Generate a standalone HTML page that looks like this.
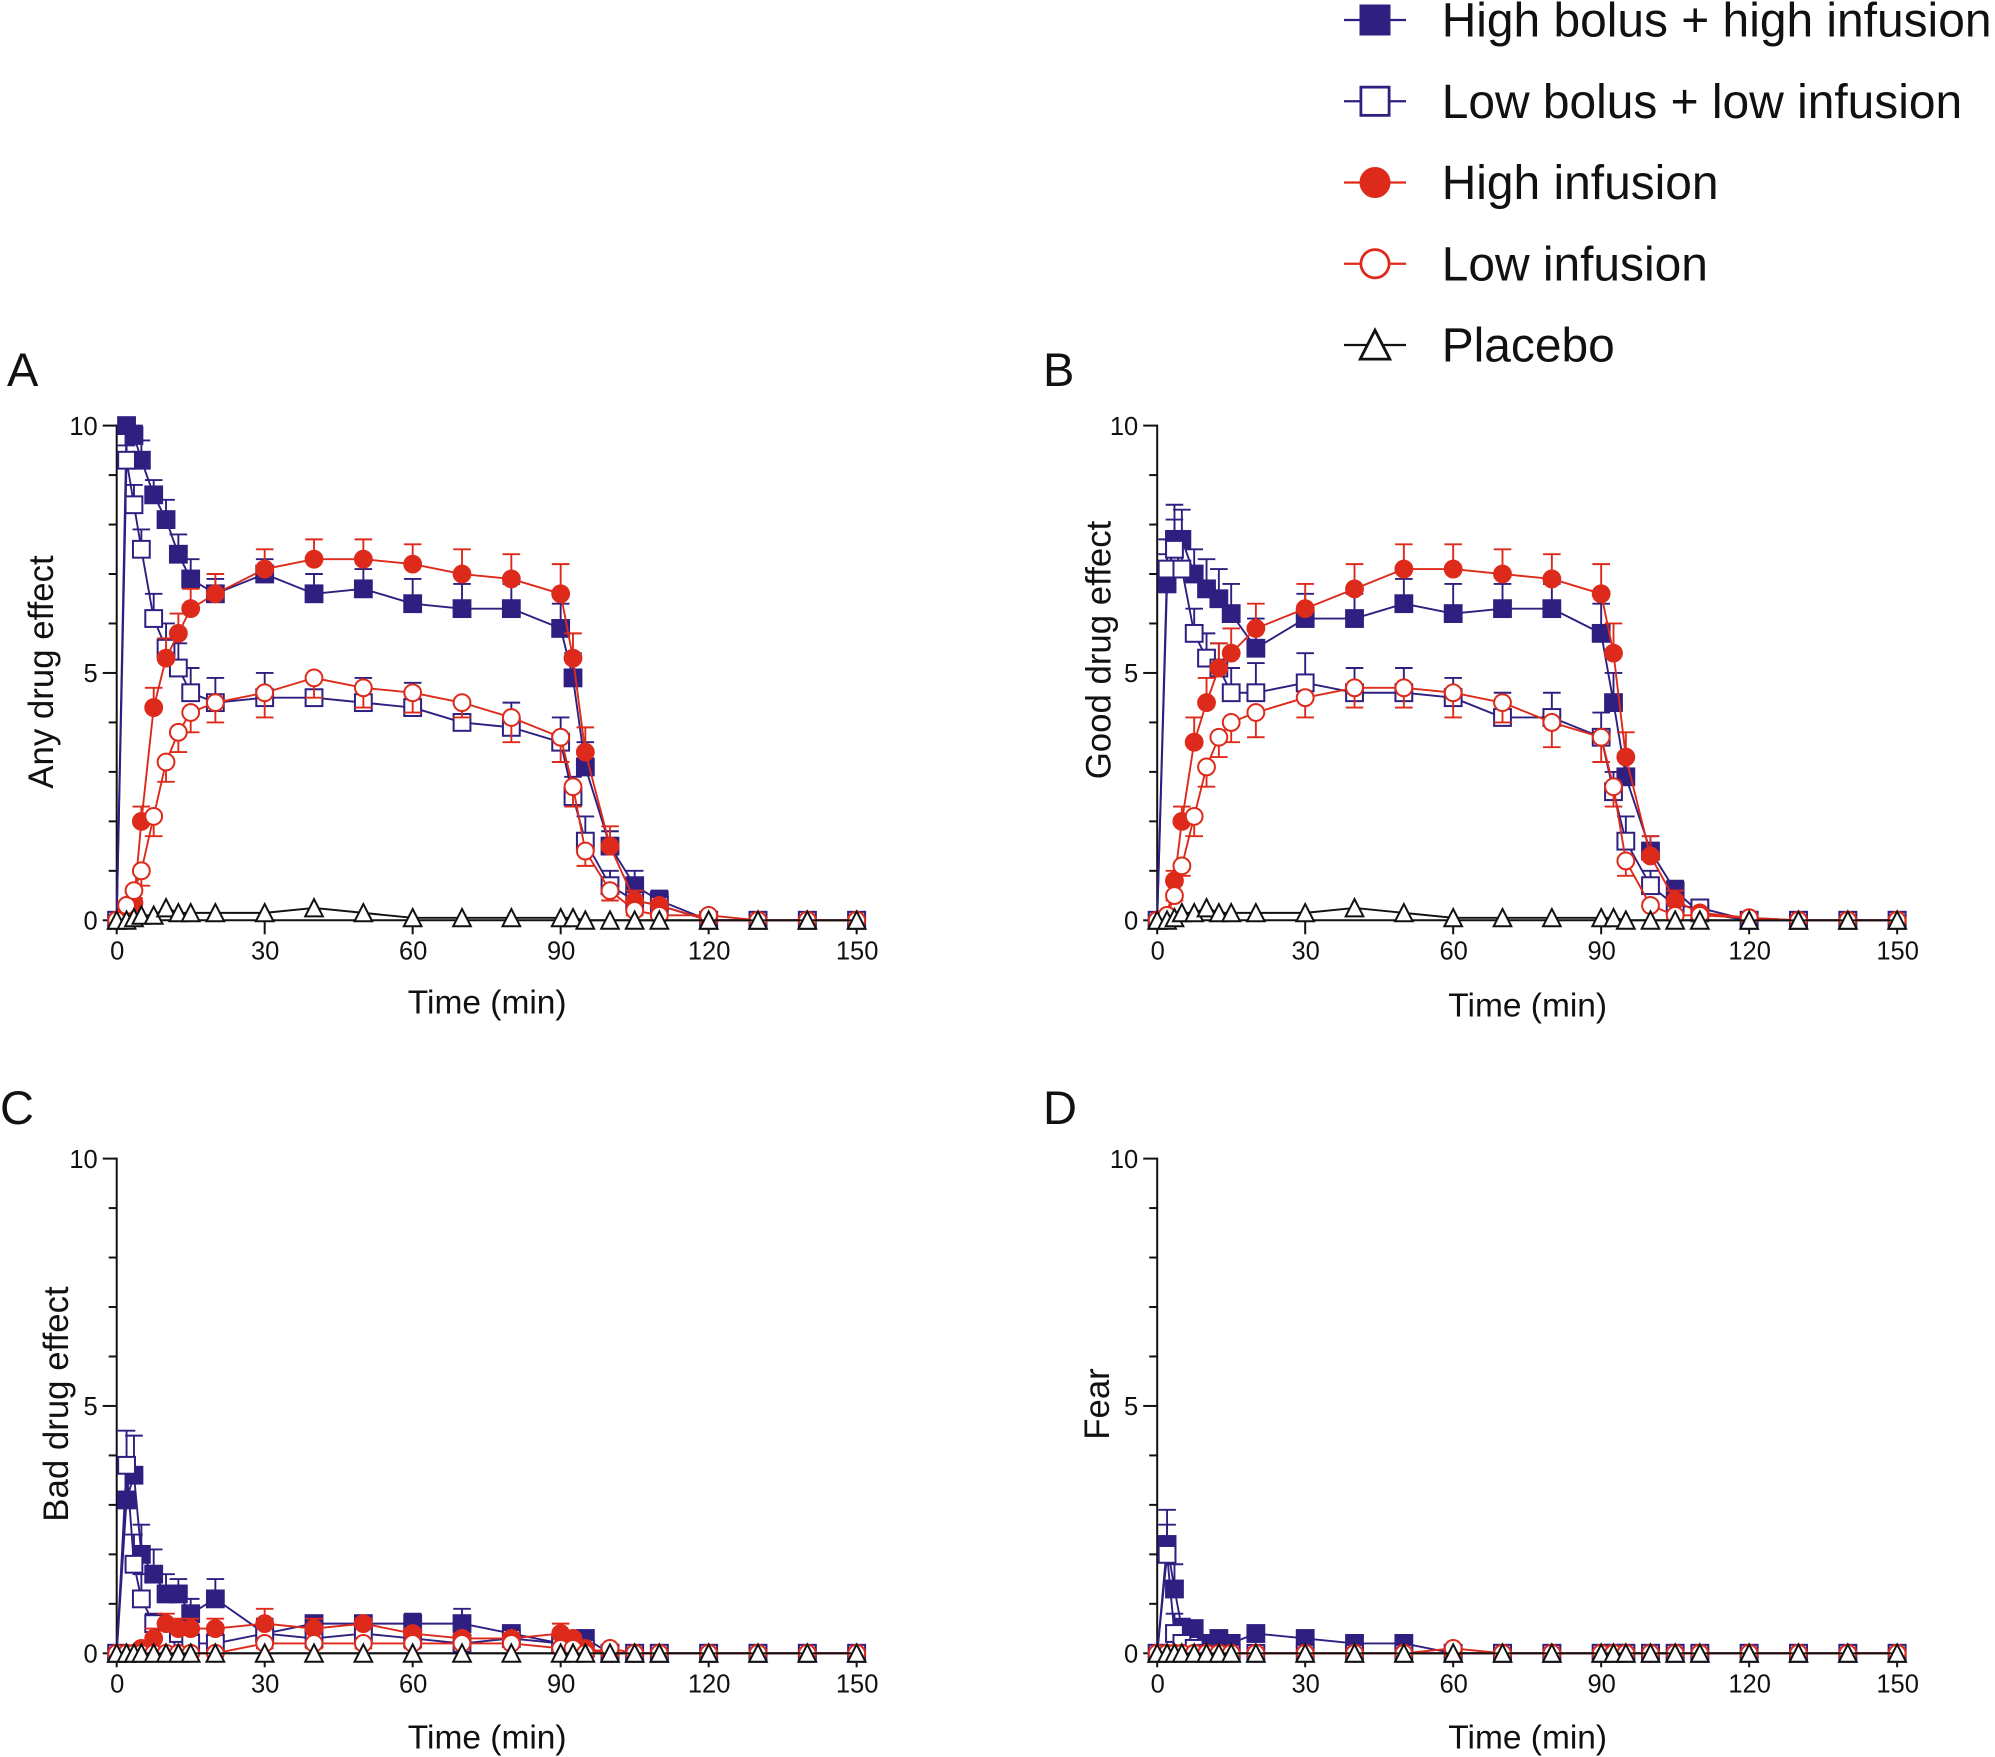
<!DOCTYPE html>
<html lang="en">
<head>
<meta charset="utf-8">
<title>Drug effect time courses</title>
<style>
html,body{margin:0;padding:0;background:#fff;}
body{width:1995px;height:1757px;overflow:hidden;}
svg{display:block;}
text{font-family:"Liberation Sans",Arial,sans-serif;fill:#111;}
</style>
</head>
<body>
<svg id="figure" xmlns="http://www.w3.org/2000/svg" width="1995" height="1757" viewBox="0 0 1995 1757">
  <rect x="0" y="0" width="1995" height="1757" fill="#fff"></rect>
  <g id="panels"></g>
  <g id="legend"></g>
</svg>
<script>
// ---- shared categories and tick labels ----
const times = [0,2,3.5,5,7.5,10,12.5,15,20,30,40,50,60,70,80,90,92.5,95,100,105,110,120,130,140,150];
const xTickLabels = [0,30,60,90,120,150];
const yTickLabels = [0,5,10];
const yMinorTicks = [1,2,3,4,6,7,8,9];
const seriesNames = ['High bolus + high infusion','Low bolus + low infusion','High infusion','Low infusion','Placebo'];

// ---- Panel A: Any drug effect ----
const aHighBolus    = [0,10,9.8,9.3,8.6,8.1,7.4,6.9,6.6,7.0,6.6,6.7,6.4,6.3,6.3,5.9,4.9,3.1,1.5,0.7,0.4,0,0,0,0];
const aHighBolusErr = [0,0,0.2,0.4,0.3,0.4,0.4,0.4,0.3,0.3,0.4,0.4,0.5,0.5,0.5,0.5,0.5,0.5,0.3,0.3,0.2,0,0,0,0];
const aLowBolus     = [0,9.3,8.4,7.5,6.1,5.5,5.1,4.6,4.4,4.5,4.5,4.4,4.3,4.0,3.9,3.6,2.5,1.6,0.7,0.4,0.3,0,0,0,0];
const aLowBolusErr  = [0,0.3,0.4,0.4,0.5,0.5,0.5,0.5,0.5,0.5,0.4,0.5,0.5,0.4,0.5,0.5,0.4,0.5,0.3,0.2,0.1,0,0,0,0];
const aHighInf      = [0,0.1,0.35,2.0,4.3,5.3,5.8,6.3,6.6,7.1,7.3,7.3,7.2,7.0,6.9,6.6,5.3,3.4,1.5,0.4,0.3,0,0,0,0];
const aHighInfErr   = [0,0,0.1,0.3,0.4,0.4,0.4,0.4,0.4,0.4,0.4,0.4,0.4,0.5,0.5,0.6,0.5,0.5,0.4,0.2,0.1,0,0,0,0];
const aLowInf       = [0,0.3,0.6,1.0,2.1,3.2,3.8,4.2,4.4,4.6,4.9,4.7,4.6,4.4,4.1,3.7,2.7,1.4,0.6,0.2,0.1,0.1,0,0,0];
const aLowInfErr    = [0,0.1,0.2,0.3,0.4,0.4,0.4,0.4,0.4,0.5,0.4,0.4,0.4,0.3,0.5,0.5,0.4,0.3,0.2,0.1,0.1,0,0,0,0];
const aPlacebo      = [0,0,0.05,0.1,0.1,0.25,0.15,0.15,0.15,0.15,0.25,0.15,0.05,0.05,0.05,0.05,0.05,0,0,0,0,0,0,0,0];

// ---- Panel B: Good drug effect ----
const bHighBolus    = [0,6.8,7.7,7.7,7.0,6.7,6.5,6.2,5.5,6.1,6.1,6.4,6.2,6.3,6.3,5.8,4.4,2.9,1.4,0.6,0.15,0,0,0,0];
const bHighBolusErr = [0,0.6,0.7,0.6,0.5,0.6,0.6,0.6,0.6,0.5,0.5,0.5,0.6,0.5,0.5,0.6,0.6,0.4,0.3,0.2,0,0,0,0,0];
const bLowBolus     = [0,7.1,7.5,7.1,5.8,5.3,5.1,4.6,4.6,4.8,4.6,4.6,4.5,4.1,4.1,3.7,2.6,1.6,0.7,0.3,0.25,0,0,0,0];
const bLowBolusErr  = [0,0.6,0.6,0.6,0.5,0.5,0.5,0.5,0.6,0.6,0.5,0.5,0.4,0.5,0.5,0.5,0.4,0.5,0.3,0.2,0,0,0,0,0];
const bHighInf      = [0,0.1,0.8,2.0,3.6,4.4,5.1,5.4,5.9,6.3,6.7,7.1,7.1,7.0,6.9,6.6,5.4,3.3,1.3,0.4,0.15,0.05,0,0,0];
const bHighInfErr   = [0,0,0.2,0.3,0.5,0.5,0.5,0.5,0.5,0.5,0.5,0.5,0.5,0.5,0.5,0.6,0.6,0.5,0.4,0.2,0,0,0,0,0];
const bLowInf       = [0,0.1,0.5,1.1,2.1,3.1,3.7,4.0,4.2,4.5,4.7,4.7,4.6,4.4,4.0,3.7,2.7,1.2,0.3,0.1,0.1,0.05,0,0,0];
const bLowInfErr    = [0,0,0.1,0.2,0.4,0.4,0.4,0.4,0.5,0.4,0.4,0.4,0.5,0.4,0.5,0.5,0.4,0.3,0,0,0,0,0,0,0];
const bPlacebo      = [0,0,0.05,0.15,0.15,0.25,0.15,0.15,0.15,0.15,0.25,0.15,0.05,0.05,0.05,0.05,0.05,0,0,0,0,0,0,0,0];

// ---- Panel C: Bad drug effect ----
const cHighBolus    = [0,3.1,3.6,2.0,1.6,1.2,1.2,0.8,1.1,0.4,0.6,0.6,0.6,0.6,0.4,0.2,0.1,0.3,0,0,0,0,0,0,0];
const cHighBolusErr = [0,0.7,0.8,0.6,0.5,0.4,0.3,0.3,0.4,0.3,0.1,0.1,0.2,0.3,0.1,0,0,0,0,0,0,0,0,0,0];
const cLowBolus     = [0,3.8,1.8,1.1,0.6,0.3,0.4,0.2,0.2,0.4,0.3,0.4,0.3,0.2,0.3,0.2,0.2,0.1,0,0,0,0,0,0,0];
const cLowBolusErr  = [0,0.7,0.6,0.5,0.2,0.2,0.2,0.2,0.2,0.1,0.1,0.1,0.1,0.1,0.1,0,0,0,0,0,0,0,0,0,0];
const cHighInf      = [0,0,0,0.1,0.3,0.6,0.5,0.5,0.5,0.6,0.5,0.6,0.4,0.3,0.3,0.4,0.3,0.1,0,0,0,0,0,0,0];
const cHighInfErr   = [0,0,0,0,0.2,0.2,0.2,0.2,0.2,0.3,0.2,0.1,0.1,0.1,0.1,0.2,0,0,0,0,0,0,0,0,0];
const cLowInf       = [0,0,0,0,0,0,0,0,0,0.2,0.2,0.2,0.2,0.2,0.2,0.1,0.1,0,0.1,0,0,0,0,0,0];
const cLowInfErr    = [0,0,0,0,0,0,0,0,0,0.1,0.1,0.1,0.1,0.1,0,0,0,0,0,0,0,0,0,0,0];
const cPlacebo      = [0,0,0,0,0,0,0,0,0,0,0,0,0,0,0,0,0,0,0,0,0,0,0,0,0];

// ---- Panel D: Fear ----
const dHighBolus    = [0,2.2,1.3,0.5,0.5,0.2,0.3,0.2,0.4,0.3,0.2,0.2,0,0,0,0,0,0,0,0,0,0,0,0,0];
const dHighBolusErr = [0,0.7,0.5,0.2,0.1,0.1,0.1,0,0,0,0,0,0,0,0,0,0,0,0,0,0,0,0,0,0];
const dLowBolus     = [0,2.0,0.4,0.2,0.1,0,0,0,0,0,0,0,0,0,0,0,0,0,0,0,0,0,0,0,0];
const dLowBolusErr  = [0,0.6,0.4,0.2,0.1,0,0,0,0,0,0,0,0,0,0,0,0,0,0,0,0,0,0,0,0];
const dHighInf      = [0,0,0,0,0,0,0,0,0,0,0,0,0,0,0,0,0,0,0,0,0,0,0,0,0];
const dHighInfErr   = [0,0,0,0,0,0,0,0,0,0,0,0,0,0,0,0,0,0,0,0,0,0,0,0,0];
const dLowInf       = [0,0,0,0,0,0,0,0,0,0,0,0,0.1,0,0,0,0,0,0,0,0,0,0,0,0];
const dLowInfErr    = [0,0,0,0,0,0,0,0,0,0,0,0,0,0,0,0,0,0,0,0,0,0,0,0,0];
const dPlacebo      = [0,0,0,0,0,0,0,0,0,0,0,0,0,0,0,0,0,0,0,0,0,0,0,0,0];

// ---- layout and styling (separate from the data) ----
const NS = 'http://www.w3.org/2000/svg';
const NAVY = '#2e1f80', RED = '#de2a1a', BLACK = '#111';
const PX_PER_MIN = 4.933, PX_PER_UNIT = 49.47;
const STYLE = [
  {color:NAVY, shape:'square', filled:true,  dir:1,  slug:'high-bolus'},
  {color:NAVY, shape:'square', filled:false, dir:1,  slug:'low-bolus'},
  {color:RED,  shape:'circle', filled:true,  dir:1,  slug:'high-infusion'},
  {color:RED,  shape:'circle', filled:false, dir:-1, slug:'low-infusion'},
  {color:BLACK,shape:'triangle',filled:false,dir:1,  slug:'placebo'}
];

function make(tag, attrs, parent, text) {
  const el = document.createElementNS(NS, tag);
  for (const k in attrs) el.setAttribute(k, attrs[k]);
  if (text !== undefined) el.textContent = text;
  parent.appendChild(el);
  return el;
}

function drawMarker(parent, style, cx, cy, size) {
  const stroke = Math.max(2, size * 0.09);
  const fill = style.filled ? style.color : '#fff';
  const half = size / 2 - stroke / 2;
  let m;
  if (style.shape === 'square') {
    m = make('rect', {x:cx-half, y:cy-half, width:half*2, height:half*2, fill:fill, stroke:style.color, 'stroke-width':stroke}, parent);
  } else if (style.shape === 'circle') {
    m = make('circle', {cx:cx, cy:cy, r:half, fill:fill, stroke:style.color, 'stroke-width':stroke}, parent);
  } else {
    const pts = [[cx, cy-half*1.05],[cx+half*1.05, cy+half],[cx-half*1.05, cy+half]].map(function(p){return p.join(',');}).join(' ');
    m = make('polygon', {points:pts, fill:fill, stroke:style.color, 'stroke-width':stroke, 'stroke-linejoin':'miter'}, parent);
  }
  
  
  return m;
}

function drawPanel(panel) {
  const root = document.getElementById('panels');
  const g = make('g', {}, root);
  
  
  const xScale = function(t){ return panel.x0 + t * PX_PER_MIN; };
  const yScale = function(v){ return panel.y0 - v * PX_PER_UNIT; };

  // panel letter
  const letter = make('text', {x:panel.letterX, y:panel.letterY, 'font-size':47}, g, panel.letter);
  
  

  // axes
  const axes = make('g', {stroke:BLACK, 'stroke-width':2, fill:'none'}, g);
  
  
  const yAxis = make('line', {x1:panel.x0, x2:panel.x0, y1:yScale(10)-1, y2:yScale(0)+1}, axes);
  
  
  const xAxis = make('line', {x1:xScale(0), x2:xScale(150)+1, y1:yScale(0), y2:yScale(0)}, axes);
  
  

  yMinorTicks.forEach(function(v){
    const t = make('line', {x1:panel.x0-8, x2:panel.x0, y1:yScale(v), y2:yScale(v)}, axes);
    
    
  });
  yTickLabels.forEach(function(v){
    const t = make('line', {x1:panel.x0-14, x2:panel.x0, y1:yScale(v), y2:yScale(v)}, axes);
    
    
    const lab = make('text', {x:panel.x0-19, y:yScale(v)+9.2, 'font-size':25.5, 'text-anchor':'end'}, g, String(v));
    
    
  });
  xTickLabels.forEach(function(v){
    const t = make('line', {x1:xScale(v), x2:xScale(v), y1:yScale(0), y2:yScale(0)+14}, axes);
    
    
    const lab = make('text', {x:xScale(v)+0.5, y:yScale(0)+39, 'font-size':25.5, 'text-anchor':'middle'}, g, String(v));
    
    
  });

  // axis titles
  const xt = make('text', {x:xScale(0)+370.5, y:panel.xTitleY, 'font-size':33.5, 'text-anchor':'middle'}, g, 'Time (min)');
  
  
  const yt = make('text', {x:0, y:0, 'font-size':34.8, 'text-anchor':'middle', transform:'translate(' + panel.yTitleX + ',' + panel.yTitleY + ') rotate(-90)'}, g, panel.title);
  
  

  // series
  panel.series.forEach(function(values, si){
    const style = STYLE[si];
    const errs = panel.errors[si];
    const sg = make('g', {}, g);
    
    
    const points = times.map(function(t, i){ return xScale(t) + ',' + yScale(values[i]); }).join(' ');
    const line = make('polyline', {points:points, fill:'none', stroke:style.color, 'stroke-width':1.9, 'stroke-linejoin':'round'}, sg);
    
    
    times.forEach(function(t, i){
      const e = errs ? errs[i] : 0;
      if (e > 0) {
        const cx = xScale(t);
        const yA = yScale(values[i]);
        const yEnd = yScale(values[i] + style.dir * e);
        const bar = make('line', {x1:cx, x2:cx, y1:yA, y2:yEnd, stroke:style.color, 'stroke-width':1.9}, sg);
        
        
        const cap = make('line', {x1:cx-8.8, x2:cx+8.8, y1:yEnd, y2:yEnd, stroke:style.color, 'stroke-width':1.9}, sg);
        
        
      }
    });
    times.forEach(function(t, i){
      drawMarker(sg, style, xScale(t), yScale(values[i]), 18.8);
    });
  });
}

drawPanel({letter:'A', x0:116.7, y0:920.3, letterX:7, letterY:386, xTitleY:1013.5, title:'Any drug effect', yTitleX:53, yTitleY:672,
  series:[aHighBolus,aLowBolus,aHighInf,aLowInf,aPlacebo], errors:[aHighBolusErr,aLowBolusErr,aHighInfErr,aLowInfErr,null]});
drawPanel({letter:'B', x0:1157.2, y0:920.3, letterX:1043, letterY:386, xTitleY:1016.5, title:'Good drug effect', yTitleX:1110.7, yTitleY:650,
  series:[bHighBolus,bLowBolus,bHighInf,bLowInf,bPlacebo], errors:[bHighBolusErr,bLowBolusErr,bHighInfErr,bLowInfErr,null]});
drawPanel({letter:'C', x0:116.7, y0:1653.3, letterX:0, letterY:1124, xTitleY:1748.5, title:'Bad drug effect', yTitleX:68, yTitleY:1404,
  series:[cHighBolus,cLowBolus,cHighInf,cLowInf,cPlacebo], errors:[cHighBolusErr,cLowBolusErr,cHighInfErr,cLowInfErr,null]});
drawPanel({letter:'D', x0:1157.2, y0:1653.3, letterX:1043, letterY:1124, xTitleY:1748.5, title:'Fear', yTitleX:1109, yTitleY:1404,
  series:[dHighBolus,dLowBolus,dHighInf,dLowInf,dPlacebo], errors:[dHighBolusErr,dLowBolusErr,dHighInfErr,dLowInfErr,null]});

// legend
(function(){
  const legend = document.getElementById('legend');
  seriesNames.forEach(function(name, i){
    const style = STYLE[i];
    const cy = 20 + i * 81.25;
    const entry = make('g', {}, legend);
    
    
    const sw = make('line', {x1:1344, x2:1406, y1:cy, y2:cy, stroke:style.color, 'stroke-width':2.2}, entry);
    
    
    drawMarker(entry, style, 1375, cy, 31);
    const label = make('text', {x:1441.7, y:cy+16.5, 'font-size':47.9}, entry, name);
    
    
  });
})();
</script>
</body>
</html>
